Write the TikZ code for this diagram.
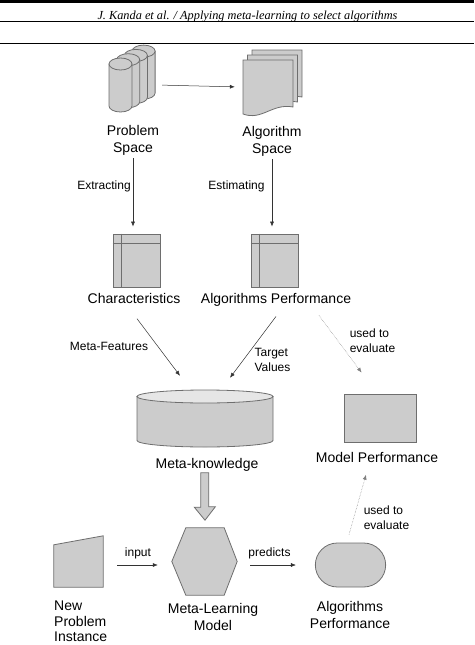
\documentclass[tikz,border=0pt]{standalone}
\usepackage{fontspec}
\setmainfont{Liberation Sans}
\newfontfamily\headfont{Liberation Serif}
\usetikzlibrary{arrows.meta,shapes.misc}
\definecolor{boxfill}{RGB}{204,204,204}
\definecolor{boxline}{RGB}{110,110,110}
\definecolor{capfill}{RGB}{230,230,230}
\tikzset{
  shapebox/.style={draw=boxline, fill=boxfill, line width=0.8pt},
  lab/.style={font=\fontsize{14}{17}\selectfont, inner sep=0pt, anchor=north, align=center},
  small/.style={font=\fontsize{12}{15}\selectfont, inner sep=0pt, anchor=north, align=left},
  conn/.style={-{Latex[length=5pt,width=4pt]}, line width=0.5pt, black!80},
  evalconn/.style={conn, densely dotted, black!50},
}
\begin{document}
\begin{tikzpicture}[x=1pt,y=-1pt]
\useasboundingbox (0,0) rectangle (474,645);
% page header
\fill (0,0) rectangle (474,2.7);
\draw[line width=0.6pt] (0,21) -- (474,21);
\draw[line width=0.6pt] (0,43) -- (474,43);
\node (head) at (247.5,19.5) [anchor=base, inner sep=0pt, font=\headfont\itshape\fontsize{12.3}{14}\selectfont] {J. Kanda et al. / Applying meta-learning to select algorithms};

% problem space and algorithm space
\foreach \i in {3,2,1,0} {
  \draw[shapebox, shift={(7.7*\i,-4.3*\i)}] (109,64) -- (109,106) arc[start angle=180, end angle=0, x radius=11.5, y radius=6] -- (132,64) -- cycle;
  \draw[shapebox, shift={(7.7*\i,-4.3*\i)}] (120.5,64) ellipse [x radius=11.5, y radius=6];
}
\foreach \i in {2,1,0}
  \draw[shapebox, shift={(4.5*\i,-5*\i)}] (243,60) -- (293,60) -- (293,107) .. controls (272,103) and (262,121) .. (243,114) -- cycle;
\node (ps) at (132,85) [minimum width=50pt, minimum height=70pt] {};
\node (as) at (272,87) [minimum width=62pt, minimum height=68pt] {};
\draw[conn, shorten <=5pt, shorten >=6pt] (ps.east) -- (as.west);

\node (psl) at (133,125) [lab] {Problem\\Space};
\node (asl) at (272,126) [lab] {Algorithm\\Space};

% characteristics and performance tables
\node (cb) at (136.5,260.5) [shapebox, minimum width=47pt, minimum height=53pt] {};
\node (pb) at (274.5,260.5) [shapebox, minimum width=47pt, minimum height=53pt] {};
\foreach \t in {cb,pb} {
  \draw[boxline, line width=0.8pt] ([xshift=9pt]\t.north west) -- ([xshift=9pt]\t.south west);
  \draw[boxline, line width=0.8pt] ([yshift=-10pt]\t.north west) -- ([yshift=-10pt]\t.north east);
}
\draw[conn, shorten <=3pt, shorten >=7pt] (psl.south) -- (psl.south |- cb.north);
\draw[conn, shorten <=3pt, shorten >=7pt] (asl.south) -- (asl.south |- pb.north);
\node (ext) at (104,181) [small] {Extracting};
\node (est) at (236.5,181) [small] {Estimating};

\node (charl) at (134,293) [lab] {Characteristics};
\node (perfl) at (276,293) [lab] {Algorithms Performance};

% meta-knowledge
\node (mk) at (205,418.5) [minimum width=136pt, minimum height=57pt] {};
\draw[shapebox] (137,396.5) -- (137,440.5) arc[start angle=180, end angle=0, x radius=68, y radius=6.5] -- (273,396.5) -- cycle;
\draw[shapebox, fill=capfill] (205,396.5) ellipse [x radius=68, y radius=6.5];
\node (mkl) at (207,458) [lab] {Meta-knowledge};
\node (mp) at (380,418) [shapebox, minimum width=72pt, minimum height=48pt] {};
\node (mpl) at (377,452) [lab] {Model Performance};

\draw[conn] ([shift={(3pt,-15pt)}]charl.south) -- ([shift={(-25pt,14pt)}]mk.north);
\draw[conn] ([shift={(0pt,-10pt)}]perfl.south) -- ([shift={(25pt,12pt)}]mk.north);
\draw[evalconn] ([shift={(43pt,-9pt)}]perfl.south) -- ([shift={(18pt,21pt)}]mp.north west);
\node (mf) at (109,342) [small] {Meta-Features};
\node (tv) at (272.5,348) [small] {Target\\Values};
\node (ute1) at (372.5,329) [small] {used to\\evaluate};

% meta-learning
\node (blk) at (205,496.5) [minimum width=21pt, minimum height=47pt] {};
\draw[shapebox] ([xshift=6.5pt]blk.north west) -- ++(8,0) -- ++(0,34) -- ++(6.5,0) -- (blk.south)
  -- ([yshift=13pt]blk.south west) -- ++(6.5,0) -- cycle;
\node (npi) at (78.5,561.5) [minimum width=49pt, minimum height=51pt] {};
\draw[shapebox] (npi.south west) -- ([yshift=-9pt]npi.north west) -- (npi.north east) -- (npi.south east) -- cycle;
\node (mlm) at (204.5,561.5) [minimum width=65pt, minimum height=67pt] {};
\draw[shapebox] (mlm.west) -- ([xshift=14pt]mlm.north west) -- ([xshift=-13pt]mlm.north east) -- (mlm.east)
  -- ([xshift=-13pt]mlm.south east) -- ([xshift=14pt]mlm.south west) -- cycle;
\node (ap) at (350.5,565) [shapebox, rounded rectangle, minimum width=77pt, minimum height=44pt] {};

\draw[conn, shorten <=14pt, shorten >=14pt] (npi.east |- ap) -- (mlm.west |- ap);
\draw[conn, shorten <=13pt, shorten >=19pt] (mlm.east |- ap) -- (ap.west);
\draw[evalconn] ([shift={(-1.5pt,8pt)}]ap.north) -- ([shift={(-11pt,-12pt)}]mpl.south);
\node (inp) at (138,548) [small] {input};
\node (pred) at (269.5,548) [small] {predicts};
\node (ute2) at (386.5,506) [small] {used to\\evaluate};

\node (npil) at (54,601) [lab, anchor=north west, align=left, font=\fontsize{14}{15.5}\selectfont] {New\\Problem\\Instance};
\node (mlml) at (213,603) [lab] {Meta-Learning\\Model};
\node (apl) at (350,601) [lab] {Algorithms\\Performance};
\end{tikzpicture}
\end{document}
